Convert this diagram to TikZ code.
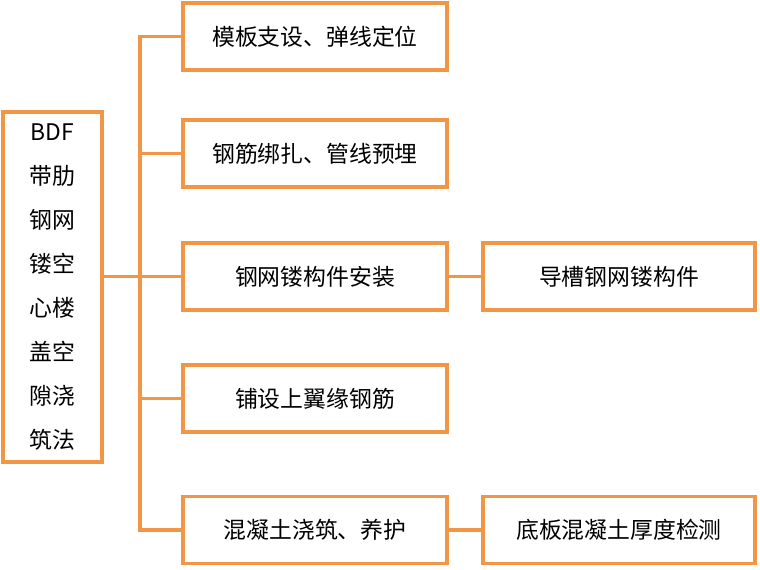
\documentclass[tikz,border=0pt]{standalone}
\usepackage{fontspec}
\setmainfont{Noto Sans CJK SC}
\definecolor{boxorange}{RGB}{240,150,70}
\begin{document}
\begin{tikzpicture}[x=0.02cm,y=-0.02cm,
    stepbox/.style={draw=boxorange,line width=2.2pt,minimum height=1.34cm,inner sep=0pt,font=\fontsize{13}{15}\selectfont},
    link/.style={draw=boxorange,line width=2.2pt}]
  \useasboundingbox (0,0) rectangle (760,570);
  % Main box
  \node[stepbox,minimum width=1.98cm,minimum height=7cm,align=center,
        font=\fontsize{13}{25}\selectfont] (main) at (52.5,287)
        {BDF\\带肋\\钢网\\镂空\\心楼\\盖空\\隙浇\\筑法};
  % Steps
  \node[stepbox,minimum width=5.28cm] (s1) at (315,36.5) {模板支设、弹线定位};
  \node[stepbox,minimum width=5.28cm] (s2) at (315,153.5) {钢筋绑扎、管线预埋};
  \node[stepbox,minimum width=5.28cm] (s3) at (315,276.5) {钢网镂构件安装};
  \node[stepbox,minimum width=5.28cm] (s4) at (315,398.5) {铺设上翼缘钢筋};
  \node[stepbox,minimum width=5.28cm] (s5) at (315,530) {混凝土浇筑、养护};
  \node[stepbox,minimum width=5.44cm] (d3) at (619,276.5) {导槽钢网镂构件};
  \node[stepbox,minimum width=5.44cm] (d5) at (619,530) {底板混凝土厚度检测};
  % Connectors
  \coordinate (trunk) at (140,276.5);
  \draw[link] (main.east |- trunk) -- (s3.west);
  \draw[link] (s1.west) -| (trunk) |- (s5.west);
  \draw[link] (trunk |- s2.west) -- (s2.west);
  \draw[link] (trunk |- s4.west) -- (s4.west);
  \draw[link] (s3.east) -- (d3.west);
  \draw[link] (s5.east) -- (d5.west);
\end{tikzpicture}
\end{document}
